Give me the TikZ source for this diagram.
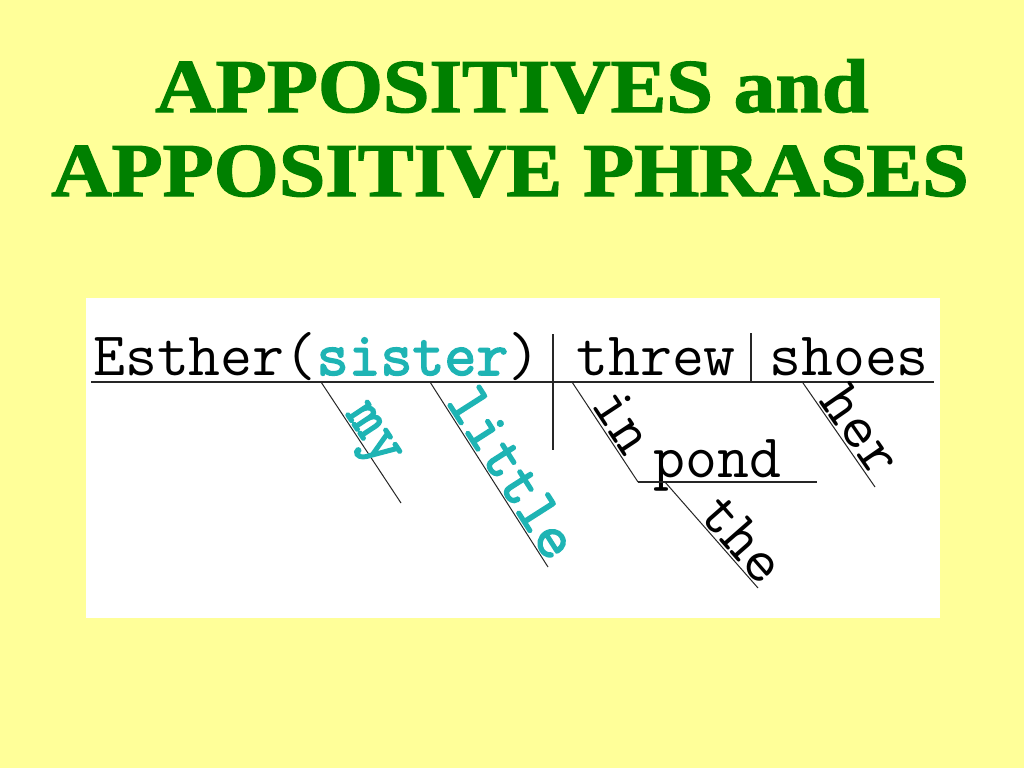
\documentclass[tikz,border=0pt]{standalone}
\usepackage{fontspec}
\usepackage{graphicx}
\usepackage{tikz}
\usetikzlibrary{positioning}
\newfontfamily\titlefont{Liberation Serif}[FakeBold=1.8]
\newfontfamily\treefont{Latin Modern Mono}
\newfontfamily\treebold{Latin Modern Mono}[FakeBold=2.5]
\definecolor{slidebg}{RGB}{255,255,153}
\definecolor{titlegreen}{RGB}{0,128,0}
\definecolor{modteal}{RGB}{30,180,180}
\tikzstyle{titletext}=[
	anchor=base,
	inner sep=0pt,
	text=titlegreen,
	font=\titlefont\bfseries\fontsize{76}{76}\selectfont
]
\tikzstyle{word}=[
	anchor=base west,
	inner sep=0pt,
	font=\treefont\fontsize{62}{62}\selectfont
]
\tikzstyle{mainline}=[
	-,
	draw=black!85,
	line width=1.4pt
]
\tikzstyle{modline}=[
	-,
	draw=black!85,
	line width=1pt
]
\tikzstyle{modword}=[
	sloped,
	anchor=south,
	text depth=0pt,
	inner sep=2pt,
	font=\treefont\fontsize{62}{62}\selectfont
]
\tikzstyle{apposword}=[
	modword,
	text=modteal,
	font=\treebold\fontsize{62}{62}\selectfont
]

\begin{document}
\begin{tikzpicture}[x=1pt,y=-1pt]
\fill[slidebg] (0,0) rectangle (1024,768);
\useasboundingbox (0,0) rectangle (1024,768);
\fill[white] (86,298) rectangle (940,618);

\node[titletext] (title1) at (512,112) {\scalebox{1.1}[1]{APPOSITIVES and}};
\node[titletext] (title2) at (510,196) {\scalebox{1.1}[1]{APPOSITIVE PHRASES}};

% words on the base line
\node[word] (subj) at (93,375) {Esther(\textcolor{modteal}{\treebold sister})};
\node[word] (verb) at (576,375) {threw};
\node[word] (dobj) at (769,375) {shoes};
\node[word] (pobj) at (653,477) {pond};

\coordinate (base0) at (91,382);
\coordinate (base1) at (934,382);
\coordinate (sv0) at (553,334);
\coordinate (sv1) at (553,450);
\coordinate (vo0) at (751,333);
\coordinate (vo1) at (751,382);
\draw[mainline] (base0) to (base1);
\draw[mainline] (sv0) to (sv1);
\draw[mainline] (vo0) to (vo1);

% modifiers
\coordinate (my0) at (321,382);
\coordinate (my1) at (401,503);
\coordinate (lit0) at (430,382);
\coordinate (lit1) at (548,567);
\coordinate (in0) at (572,382);
\coordinate (in1) at (638,482);
\coordinate (pond1) at (817,482);
\coordinate (the0) at (665,482);
\coordinate (the1) at (758,588);
\coordinate (her0) at (803,383);
\coordinate (her1) at (875,487);

\draw[modline] (my0) to node[apposword, pos=.5] (my) {my} (my1);
\draw[modline] (lit0) to node[apposword, pos=.55] (little) {little} (lit1);
\draw[modline] (in0) to node[modword, pos=.51] (in) {in} (in1);
\draw[mainline] (in1) to (pond1);
\draw[modline] (the0) to node[modword, pos=.67] (the) {the} (the1);
\draw[modline] (her0) to node[modword, pos=.57] (her) {her} (her1);
\end{tikzpicture}
\end{document}
